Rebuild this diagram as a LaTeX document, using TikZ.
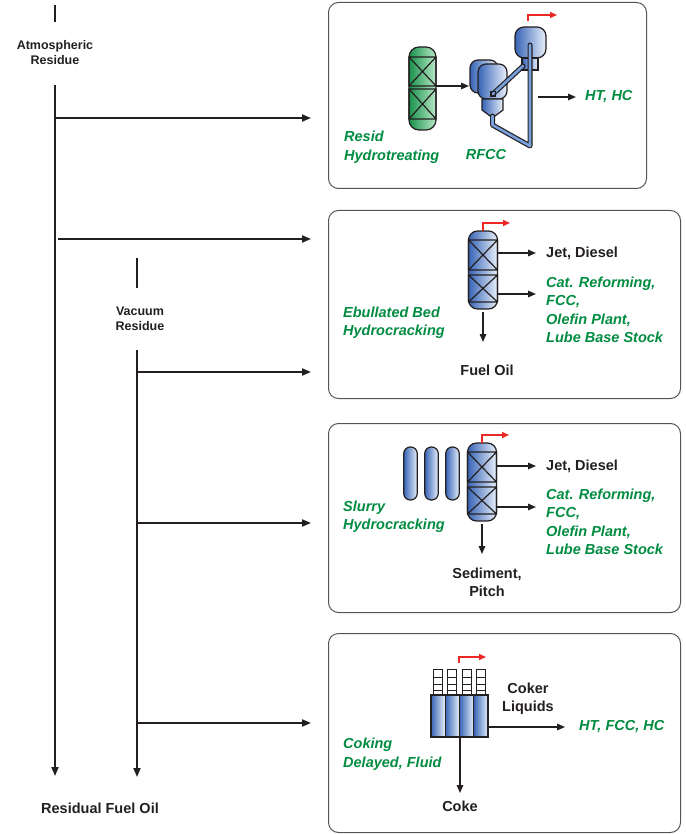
\documentclass[tikz,border=0pt]{standalone}
\usepackage{fontspec}
\setmainfont{Liberation Sans}
\usetikzlibrary{arrows.meta}
\definecolor{ink}{RGB}{35,31,32}
\definecolor{grn}{RGB}{0,140,65}
\definecolor{bluedk}{RGB}{55,100,182}
\definecolor{bluelt}{RGB}{232,240,250}
\definecolor{bluemid}{RGB}{120,160,220}
\definecolor{grndk}{RGB}{25,145,75}
\definecolor{grnlt}{RGB}{185,232,200}
\definecolor{frame}{RGB}{85,85,85}
\definecolor{hot}{RGB}{235,40,35}
\begin{document}
\begin{tikzpicture}[x=1pt,y=1pt,
  flow/.style={ink,line width=1.9pt,-{Triangle[length=9pt,width=7pt]}},
  feedin/.style={flow,shorten >=17pt},
  stub/.style={ink,line width=1.9pt},
  outflow/.style={ink,line width=1.5pt,-{Triangle[length=8pt,width=6.5pt]}},
  hotline/.style={hot,line width=1.4pt,-{Triangle[length=7pt,width=6pt]}},
  unitbox/.style={draw=frame,line width=1pt,rounded corners=10pt,anchor=north west,fill=white},
  feed/.style={font=\bfseries\fontsize{12.5}{15}\selectfont,text=ink,align=center},
  prod/.style={font=\bfseries\fontsize{14.5}{18.5}\selectfont,text=ink,align=center},
  proc/.style={font=\bfseries\itshape\fontsize{14.5}{18.5}\selectfont,text=grn,align=left},
  vessel/.style={draw=ink,line width=1.2pt,left color=bluedk,right color=bluelt},
  resid/.style={draw=ink,line width=1.2pt,left color=grndk,right color=grnlt},
  pipeout/.style={ink,line width=5pt,line join=round,line cap=round},
  pipein/.style={bluemid,line width=2.6pt,line join=round,line cap=round},
  hcol/.pic={
    \draw[vessel,rounded corners=9pt] (-14.5,0) rectangle (14.5,-78);
    \draw[ink,line width=1.2pt] (-14.5,-9) rectangle (14.5,-39)
      (-14.5,-9) -- (14.5,-39) (14.5,-9) -- (-14.5,-39)
      (-14.5,-44) rectangle (14.5,-71)
      (-14.5,-44) -- (14.5,-71) (14.5,-44) -- (-14.5,-71);
  }]
\tikzstyle{every node}+=[inner sep=0pt]
\useasboundingbox (0,0) rectangle (685,-834);
% unit boxes
\node[unitbox,minimum width=318pt,minimum height=186pt] (rfccbox) at (328,-2) {};
\node[unitbox,minimum width=352pt,minimum height=188pt] (ebbox) at (328,-210) {};
\node[unitbox,minimum width=352pt,minimum height=189pt] (slbox) at (328,-423) {};
\node[unitbox,minimum width=352pt,minimum height=199pt] (ckbox) at (328,-633) {};
% atmospheric residue
\coordinate (atmA) at (55,-5);
\coordinate (atmB) at (55,-22);
\node[feed] (atm) at (55,-52.5) {Atmospheric\\Residue};
\coordinate (atmC) at (55,-85);
\coordinate (atmD) at (55,-776);
\draw[stub] (atmA) -- (atmB);
\draw[flow] (atmC) -- (atmD);
\coordinate (atm1) at (55,-118);
\coordinate (atm2) at (58,-239);
\draw[feedin] (atm1) -- (rfccbox.west |- atm1);
\draw[feedin] (atm2) -- (ebbox.west |- atm2);
% vacuum residue
\coordinate (vacA) at (137,-258);
\coordinate (vacB) at (137,-288);
\node[feed] (vac) at (140,-318.5) {Vacuum\\Residue};
\coordinate (vacC) at (137,-350);
\coordinate (vacD) at (137,-777);
\draw[stub] (vacA) -- (vacB);
\draw[flow] (vacC) -- (vacD);
\coordinate (vac1) at (137,-372);
\coordinate (vac2) at (137,-523);
\coordinate (vac3) at (137,-723);
\draw[feedin] (vac1) -- (ebbox.west |- vac1);
\draw[feedin] (vac2) -- (slbox.west |- vac2);
\draw[feedin] (vac3) -- (ckbox.west |- vac3);
\node[prod] (rfo) at (100,-808) {Residual Fuel Oil};
% resid hydrotreating + RFCC
\draw[resid,rounded corners=10pt] (409,-47) rectangle (436,-130);
\draw[ink,line width=1.2pt] (409,-57) rectangle (436,-86)
  (409,-57) -- (436,-86) (436,-57) -- (409,-86)
  (409,-89) rectangle (436,-119)
  (409,-89) -- (436,-119) (436,-89) -- (409,-119);
\coordinate (hdt) at (436,-86);
\coordinate (rx) at (469,-86);
\draw[outflow] (hdt) -- (rx);
\draw[vessel,rounded corners=8pt] (470,-60) rectangle (498,-93);
\draw[vessel,rounded corners=8pt] (478,-64) rectangle (507,-99);
\draw[vessel] (482,-99) -- (482,-110) -- (490,-116) -- (495,-116) -- (503,-110) -- (503,-99) -- cycle;
\draw[vessel,rounded corners=9pt] (515,-27) rectangle (546,-58);
\draw[vessel] (522,-58) rectangle (538,-70);
\draw[pipeout] (523,-66) -- (493,-94);
\draw[pipein] (523,-66) -- (493,-94);
\draw[ink,line width=1pt] (490,-92) rectangle (495,-97);
\draw[pipeout] (492.5,-116) -- (492.5,-125) -- (530,-146) -- (530,-45);
\draw[pipein] (492.5,-116) -- (492.5,-125) -- (530,-146) -- (530,-45);
\coordinate (rg) at (528,-21);
\coordinate (rgflue) at (557,-15);
\draw[hotline] (rg) |- (rgflue);
\coordinate (rfout) at (538,-97);
\node[proc,anchor=west] (hthc) at (585,-97) {HT, HC};
\draw[outflow] (rfout) -- ([xshift=-9pt]hthc.west);
\node[proc,anchor=west] (rdht) at (344,-147.5) {Resid\\Hydrotreating};
\node[proc] (rfcc) at (486,-155) {RFCC};
% ebullated bed
\pic at (483,-231) {hcol};
\coordinate (ebtop) at (483,-231);
\coordinate (ebgas) at (510,-223);
\draw[hotline] (ebtop) |- (ebgas);
\node[prod,anchor=west] (ebjet) at (546,-253) {Jet, Diesel};
\node[proc,anchor=west] (ebgrn) at (546,-310) {Cat. Reforming,\\FCC,\\Olefin Plant,\\Lube Base Stock};
\coordinate (ebj) at (498,-253);
\coordinate (ebm) at (498,-294);
\draw[outflow] (ebj) -- ([xshift=-10pt]ebjet.west);
\draw[outflow] (ebm) -- ([xshift=-10pt]ebgrn.west |- ebm);
\coordinate (ebb) at (483,-312);
\coordinate (ebfo) at (483,-342);
\draw[outflow] (ebb) -- (ebfo);
\node[prod] (fueloil) at (487,-370) {Fuel Oil};
\node[proc,anchor=west] (ebhc) at (343,-322.5) {Ebullated Bed\\Hydrocracking};
% slurry
\foreach \x in {410.5,431.5,452.5}
  \draw[vessel,rounded corners=6.5pt] ({\x-6.75},-447) rectangle ({\x+6.75},-500);
\pic at (482,-443) {hcol};
\coordinate (sltop) at (482,-443);
\coordinate (slgas) at (509,-435);
\draw[hotline] (sltop) |- (slgas);
\node[prod,anchor=west] (sljet) at (546,-466) {Jet, Diesel};
\node[proc,anchor=west] (slgrn) at (546,-522) {Cat. Reforming,\\FCC,\\Olefin Plant,\\Lube Base Stock};
\coordinate (slj) at (497,-466);
\coordinate (slm) at (497,-507);
\draw[outflow] (slj) -- ([xshift=-10pt]sljet.west);
\draw[outflow] (slm) -- ([xshift=-10pt]slgrn.west |- slm);
\coordinate (slb) at (482,-524);
\coordinate (slsp) at (482,-554);
\draw[outflow] (slb) -- (slsp);
\node[prod] (pitch) at (487,-582.5) {Sediment,\\Pitch};
\node[proc,anchor=west] (slhc) at (343,-516.5) {Slurry\\Hydrocracking};
% coking
\foreach \i in {0,...,3} {
  \draw[vessel] ({431+14.25*\i},-695) rectangle ({445.25+14.25*\i},-737);
  \draw[ink,line width=1pt] ({433.6+14.25*\i},-669) -- ({433.6+14.25*\i},-695)
    ({442.6+14.25*\i},-669) -- ({442.6+14.25*\i},-695);
  \foreach \y in {669,677,684,690}
    \draw[ink,line width=1pt] ({433.6+14.25*\i},-\y) -- ({442.6+14.25*\i},-\y);
}
\coordinate (cktop) at (459,-663);
\coordinate (ckgas) at (486,-657);
\draw[hotline] (cktop) |- (ckgas);
\coordinate (ckr) at (488,-727);
\coordinate (ckliq) at (565,-727);
\draw[outflow] (ckr) -- (ckliq);
\coordinate (ckb) at (460,-737);
\coordinate (ckcoke) at (460,-793);
\draw[outflow] (ckb) -- (ckcoke);
\node[prod] (cokerliq) at (528,-698.5) {Coker\\Liquids};
\node[proc,anchor=west] (ckprod) at (579,-727) {HT, FCC, HC};
\node[prod] (coke) at (460,-806) {Coke};
\node[proc,anchor=west] (coking) at (343,-754) {Coking\\Delayed, Fluid};
\end{tikzpicture}
\end{document}
